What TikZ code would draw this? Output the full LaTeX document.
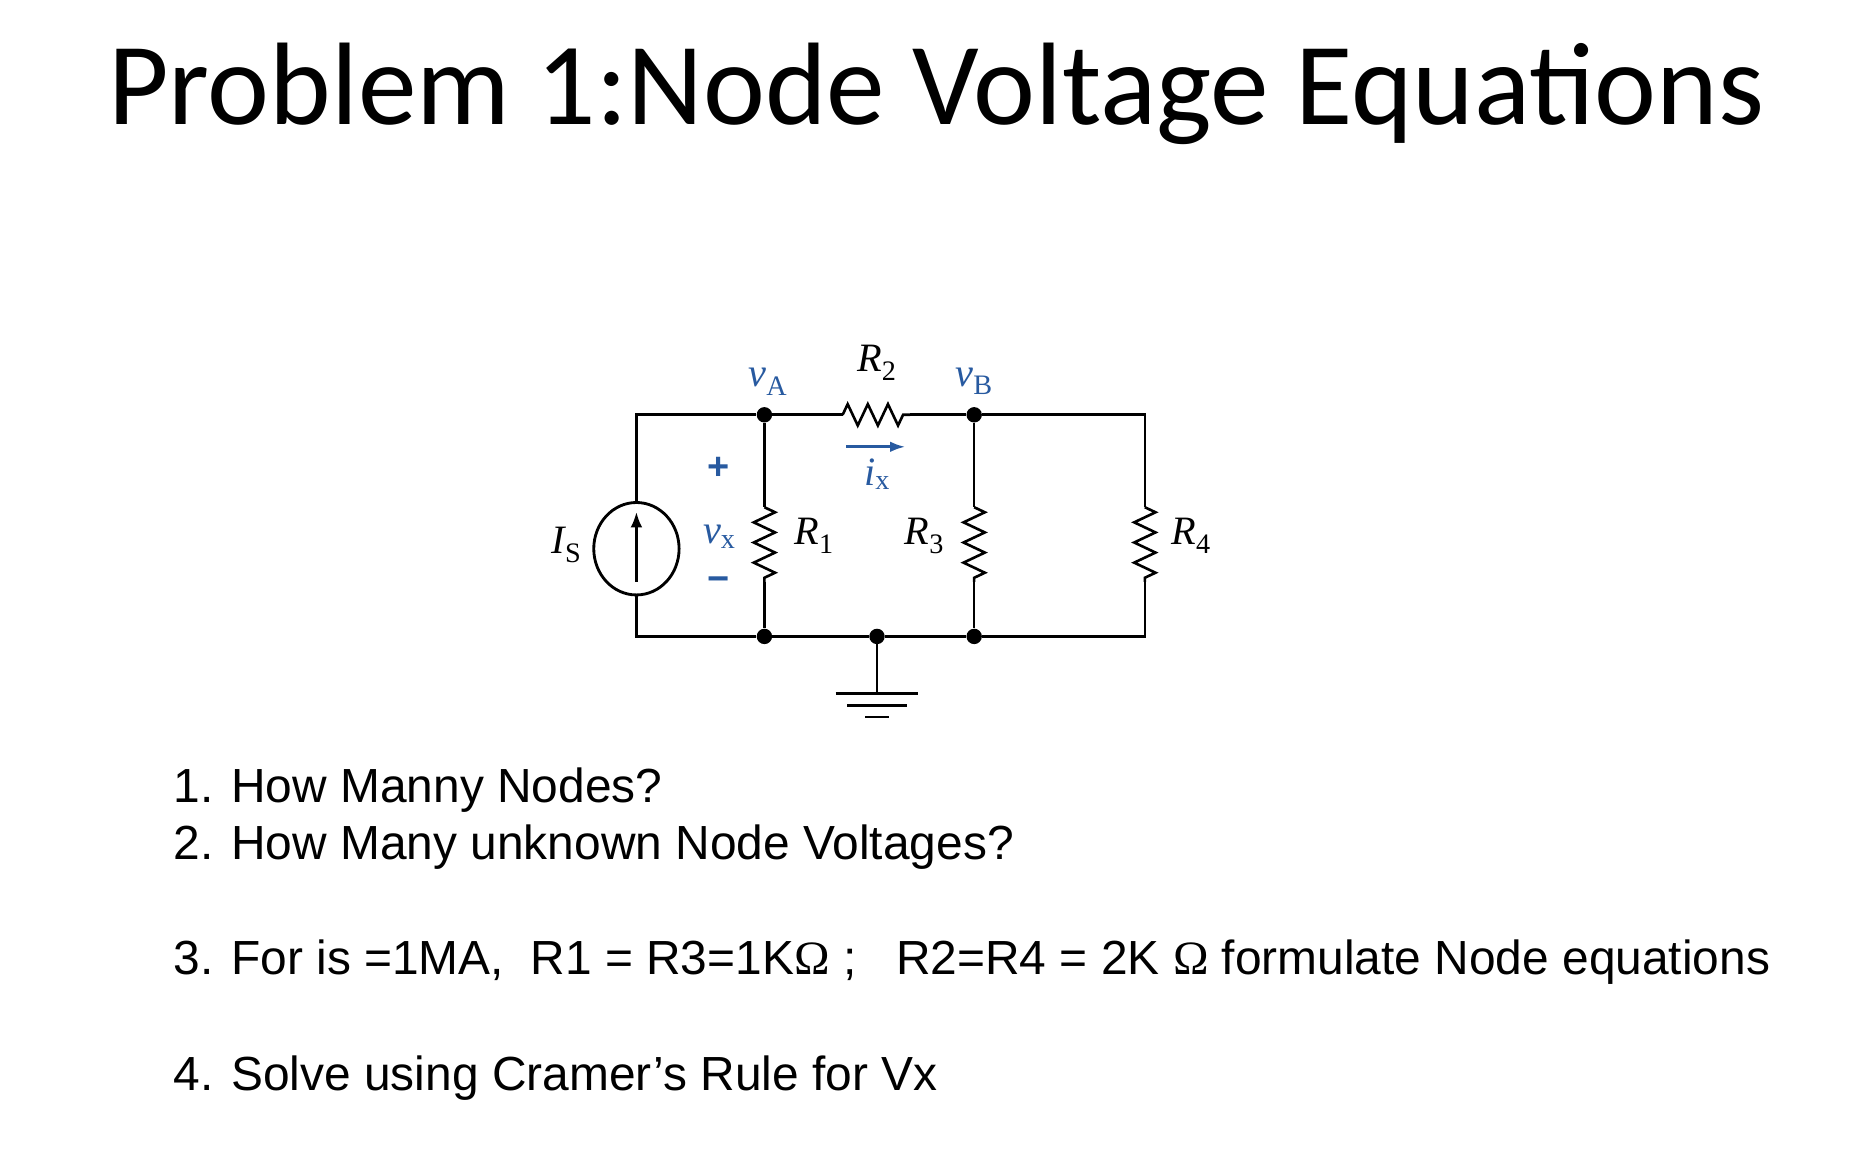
\documentclass[tikz,border=0pt]{standalone}
\usepackage{fontspec}
\setmainfont{Liberation Sans}
\newfontfamily\titlefont{Carlito}
\newfontfamily\circfont{Liberation Serif}
\usetikzlibrary{decorations.pathmorphing,arrows.meta,shapes.geometric}
\definecolor{cblue}{RGB}{40,90,160}
\begin{document}
\begin{tikzpicture}[x=1pt,y=-1pt,
  wire/.style={line width=2.2pt,line join=miter},
  res/.style={wire,decorate,decoration={zigzag,amplitude=9pt,segment length=17pt}},
  dot/.style={circle,fill=black,inner sep=0pt,minimum size=13pt},
  lab/.style={font=\circfont\fontsize{34}{34}\selectfont\itshape},
  blab/.style={lab,text=cblue},
  item/.style={anchor=base west,font=\fontsize{40.4}{40.4}\selectfont}]
\useasboundingbox (0,0) rectangle (1561,990);
\node[anchor=base,font=\titlefont\fontsize{99}{99}\selectfont] (title) at (790,105) {Problem 1:Node Voltage Equations};
% corners and nodes
\coordinate (TL) at (537,350); \coordinate (BL) at (537,537);
\coordinate (TR) at (966,350); \coordinate (BR) at (966,537);
\node[dot] (A) at (645,350) {}; \node[dot] (B) at (822,350) {};
\node[dot] (GA) at (645,537) {}; \node[dot] (G) at (740,537) {}; \node[dot] (GB) at (822,537) {};
\node[draw,ellipse,line width=2.4pt,minimum width=72pt,minimum height=78pt,inner sep=0pt] (S) at (537,463) {};
\draw[wire,-{Latex[length=13pt,width=10pt]}] (537,491) -- (537,432);
% wires
\draw[wire] (S.north) -- (TL) -- (A) -- (711,350);
\draw[res] (711,350) -- (768,350);
\draw[wire] (768,350) -- (B) -- (TR) -- (966,428);
\draw[res] (966,428) -- (966,491);
\draw[wire] (966,491) -- (BR) -- (GB) -- (G) -- (GA) -- (BL) -- (S.south);
\draw[wire] (A) -- (645,428); \draw[res] (645,428) -- (645,491); \draw[wire] (645,491) -- (GA);
\draw[wire] (B) -- (822,428); \draw[res] (822,428) -- (822,491); \draw[wire] (822,491) -- (GB);
% ground
\coordinate (gnd) at (740,585);
\draw[wire] (G) -- (gnd);
\draw[line width=2.5pt] (705,585) -- (775,585);
\draw[line width=2.5pt] (715,595) -- (765,595);
\draw[line width=2.5pt] (730,605) -- (750,605);
% labels
\node[blab] (vA) at (648,322) {v\textsubscript{\upshape A}};
\node[blab] (vB) at (822,322) {v\textsubscript{\upshape B}};
\node[lab] (R2) at (740,306) {R\textsubscript{\upshape 2}};
\draw[line width=2.4pt,cblue,-{Latex[length=13pt,width=9pt]}] (714,377) -- (764,377);
\node[blab] (ix) at (740,400) {i\textsubscript{\upshape x}};
\node[text=cblue,font=\bfseries\fontsize{32}{32}\selectfont] (plus) at (606,395) {+};
\node[text=cblue,font=\bfseries\fontsize{32}{32}\selectfont] (minus) at (606,493) {\textminus};
\node[blab] (vx) at (607,453) {v\textsubscript{\upshape x}};
\node[lab] (R1) at (687,452) {R\textsubscript{\upshape 1}};
\node[lab] (R3) at (780,452) {R\textsubscript{\upshape 3}};
\node[lab] (R4) at (1005,452) {R\textsubscript{\upshape 4}};
\node[lab] (Is) at (478,460) {I\textsubscript{\upshape S}};
% questions
\node[item] (q1) at (143,677) {1. How Manny Nodes?};
\node[item] (q2) at (143,725) {2. How Many unknown Node Voltages?};
\node[item] (q3) at (143,822) {3. For is =1MA,\ \ R1 = R3=1K{\circfont Ω} ;\ \ \ R2=R4 = 2K {\circfont Ω} formulate Node equations};
\node[item] (q4) at (143,920) {4. Solve using Cramer’s Rule for Vx};
\end{tikzpicture}
\end{document}
